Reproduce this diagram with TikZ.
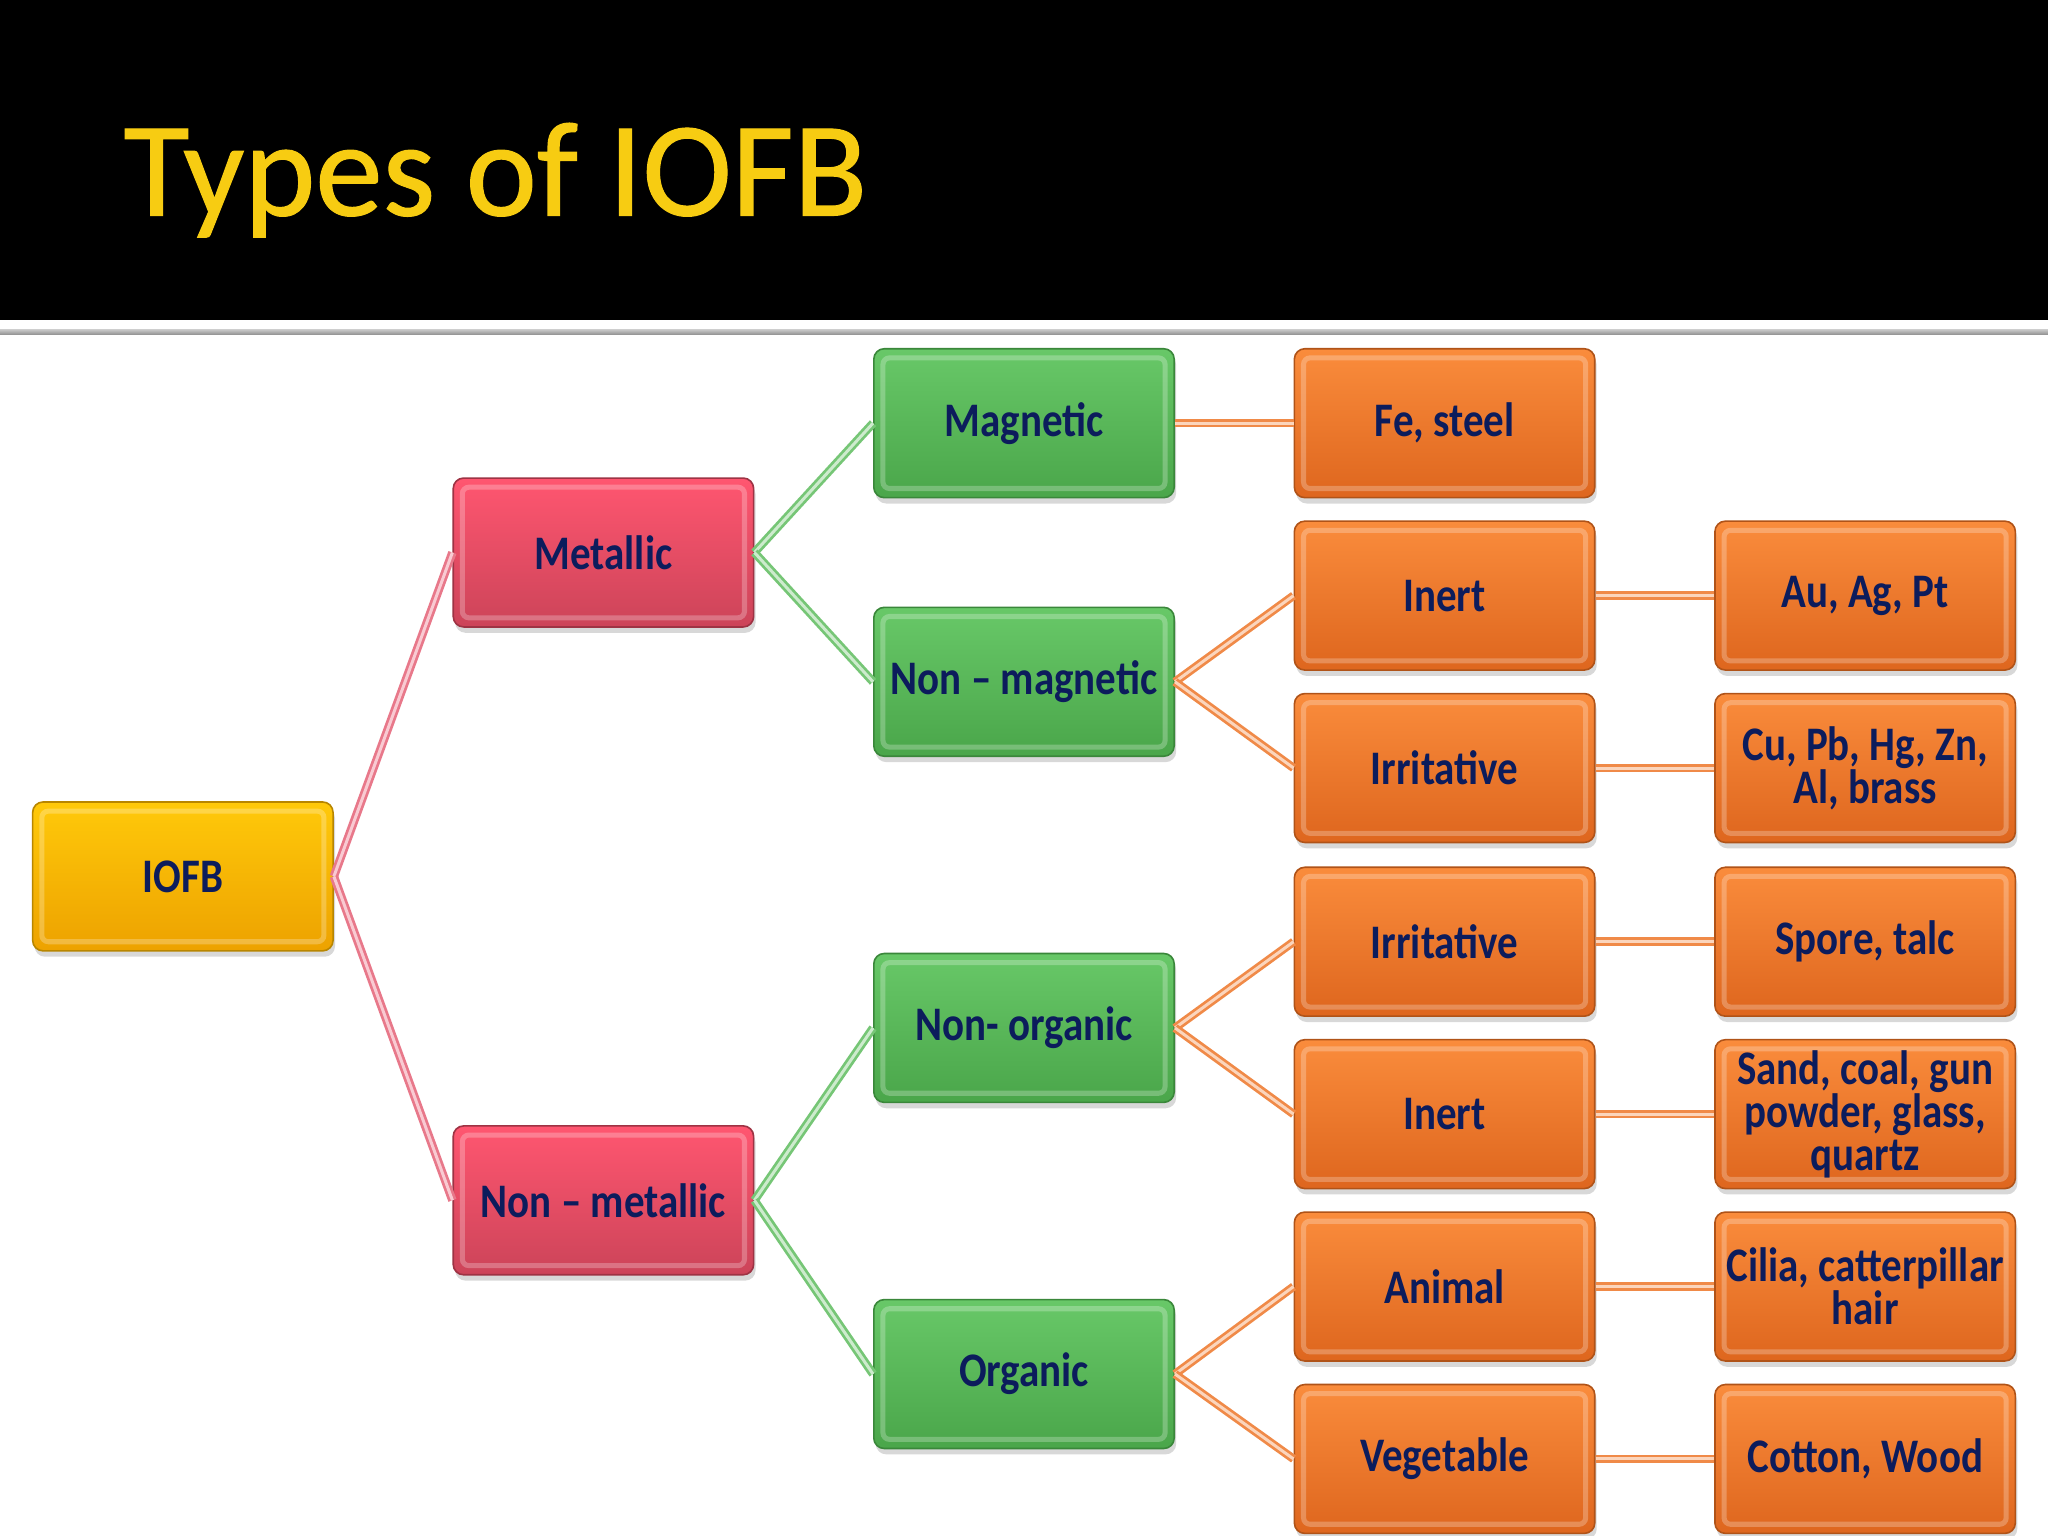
\documentclass[tikz,border=0pt]{standalone}
\usepackage{fontspec}
\setmainfont{Carlito}
\newfontfamily\boxfont[FakeStretch=0.85]{Carlito}
\newfontfamily\titlefont[FakeBold=0.8]{Carlito}
\usetikzlibrary{shadows}
\definecolor{navy}{HTML}{0C1C5C}
\definecolor{titleyel}{HTML}{F7CC12}
\definecolor{ytop}{HTML}{FFC90A}\definecolor{ybot}{HTML}{EDA200}\definecolor{ybrd}{HTML}{B88600}
\definecolor{ptop}{HTML}{FF5670}\definecolor{pbot}{HTML}{CC4459}\definecolor{pbrd}{HTML}{9E3344}
\definecolor{gtop}{HTML}{68C868}\definecolor{gbot}{HTML}{4AA64A}\definecolor{gbrd}{HTML}{3A873A}
\definecolor{otop}{HTML}{FA8C3C}\definecolor{obot}{HTML}{DE661E}\definecolor{obrd}{HTML}{B05318}
\definecolor{pline}{HTML}{E8788A}\definecolor{pmid}{HTML}{F9CAD2}
\definecolor{gline}{HTML}{76C676}\definecolor{gmid}{HTML}{CDEBCD}
\definecolor{oline}{HTML}{F08A48}\definecolor{omid}{HTML}{FBD5BC}
\tikzset{
  basebox/.style={rectangle, rounded corners=0.8mm, minimum width=23mm, minimum height=11.4mm,
    inner sep=0pt, align=center, text=navy,
    font=\boxfont\bfseries\fontsize{10.5}{9.4}\selectfont,
    drop shadow={shadow xshift=0.15mm, shadow yshift=-0.45mm, opacity=0.3},
    line width=0.35pt,
    path picture={\draw[white, opacity=0.25, line width=1.1pt, rounded corners=0.5mm]
      ([shift={(0.7mm,-0.7mm)}]path picture bounding box.north west) rectangle
      ([shift={(-0.7mm,0.7mm)}]path picture bounding box.south east);}},
  ybox/.style={basebox, top color=ytop, bottom color=ybot, draw=ybrd},
  pbox/.style={basebox, top color=ptop, bottom color=pbot, draw=pbrd},
  gbox/.style={basebox, top color=gtop, bottom color=gbot, draw=gbrd},
  obox/.style={basebox, top color=otop, bottom color=obot, draw=obrd},
  pconn/.style={draw=pline, double=pmid, line width=0.6pt, double distance=0.65pt},
  gconn/.style={draw=gline, double=gmid, line width=0.6pt, double distance=0.65pt},
  oconn/.style={draw=oline, double=omid, line width=0.6pt, double distance=0.65pt},
}
\begin{document}
\begin{tikzpicture}[x=0.1mm, y=-0.1mm]
\useasboundingbox (0,0) rectangle (1568,1176);
\fill[white] (0,0) rectangle (1568,1176);
% header
\fill[black] (0,0) rectangle (1568,245);
\shade[top color=gray!45, bottom color=gray!85] (0,252.5) rectangle (1568,256);
\node[anchor=base west, inner sep=0pt, text=titleyel, font=\titlefont\fontsize{29.4}{30}\selectfont] (title) at (94,165) {Types of IOFB};
% nodes
\node[ybox] (iofb) at (140,671) {IOFB};
\node[pbox] (met) at (462,423) {Metallic};
\node[pbox] (nmet) at (462,919) {Non – metallic};
\node[gbox] (mag) at (784,324) {Magnetic};
\node[gbox] (nmag) at (784,522) {Non – magnetic};
\node[gbox] (norg) at (784,787) {Non- organic};
\node[gbox] (org) at (784,1052) {Organic};
\node[obox] (fe) at (1106,324) {Fe, steel};
\node[obox] (inert1) at (1106,456) {Inert};
\node[obox] (irr1) at (1106,588) {Irritative};
\node[obox] (irr2) at (1106,721) {Irritative};
\node[obox] (inert2) at (1106,853) {Inert};
\node[obox] (animal) at (1106,985) {Animal};
\node[obox] (veg) at (1106,1117) {Vegetable};
\node[obox] (au) at (1428,456) {Au, Ag, Pt};
\node[obox] (cu) at (1428,588) {Cu, Pb, Hg, Zn,\\Al, brass};
\node[obox] (spore) at (1428,721) {Spore, talc};
\node[obox] (sand) at (1428,853) {Sand, coal, gun\\powder, glass,\\quartz};
\node[obox] (cilia) at (1428,985) {Cilia, catterpillar\\hair};
\node[obox] (cotton) at (1428,1117) {Cotton, Wood};
% connectors
\draw[pconn] (iofb.east) -- (met.west);
\draw[pconn] (iofb.east) -- (nmet.west);
\draw[gconn] (met.east) -- (mag.west);
\draw[gconn] (met.east) -- (nmag.west);
\draw[gconn] (nmet.east) -- (norg.west);
\draw[gconn] (nmet.east) -- (org.west);
\draw[oconn] (mag.east) -- (fe.west);
\draw[oconn] (nmag.east) -- (inert1.west);
\draw[oconn] (nmag.east) -- (irr1.west);
\draw[oconn] (norg.east) -- (irr2.west);
\draw[oconn] (norg.east) -- (inert2.west);
\draw[oconn] (org.east) -- (animal.west);
\draw[oconn] (org.east) -- (veg.west);
\draw[oconn] (inert1.east) -- (au.west);
\draw[oconn] (irr1.east) -- (cu.west);
\draw[oconn] (irr2.east) -- (spore.west);
\draw[oconn] (inert2.east) -- (sand.west);
\draw[oconn] (animal.east) -- (cilia.west);
\draw[oconn] (veg.east) -- (cotton.west);
\end{tikzpicture}
\end{document}
